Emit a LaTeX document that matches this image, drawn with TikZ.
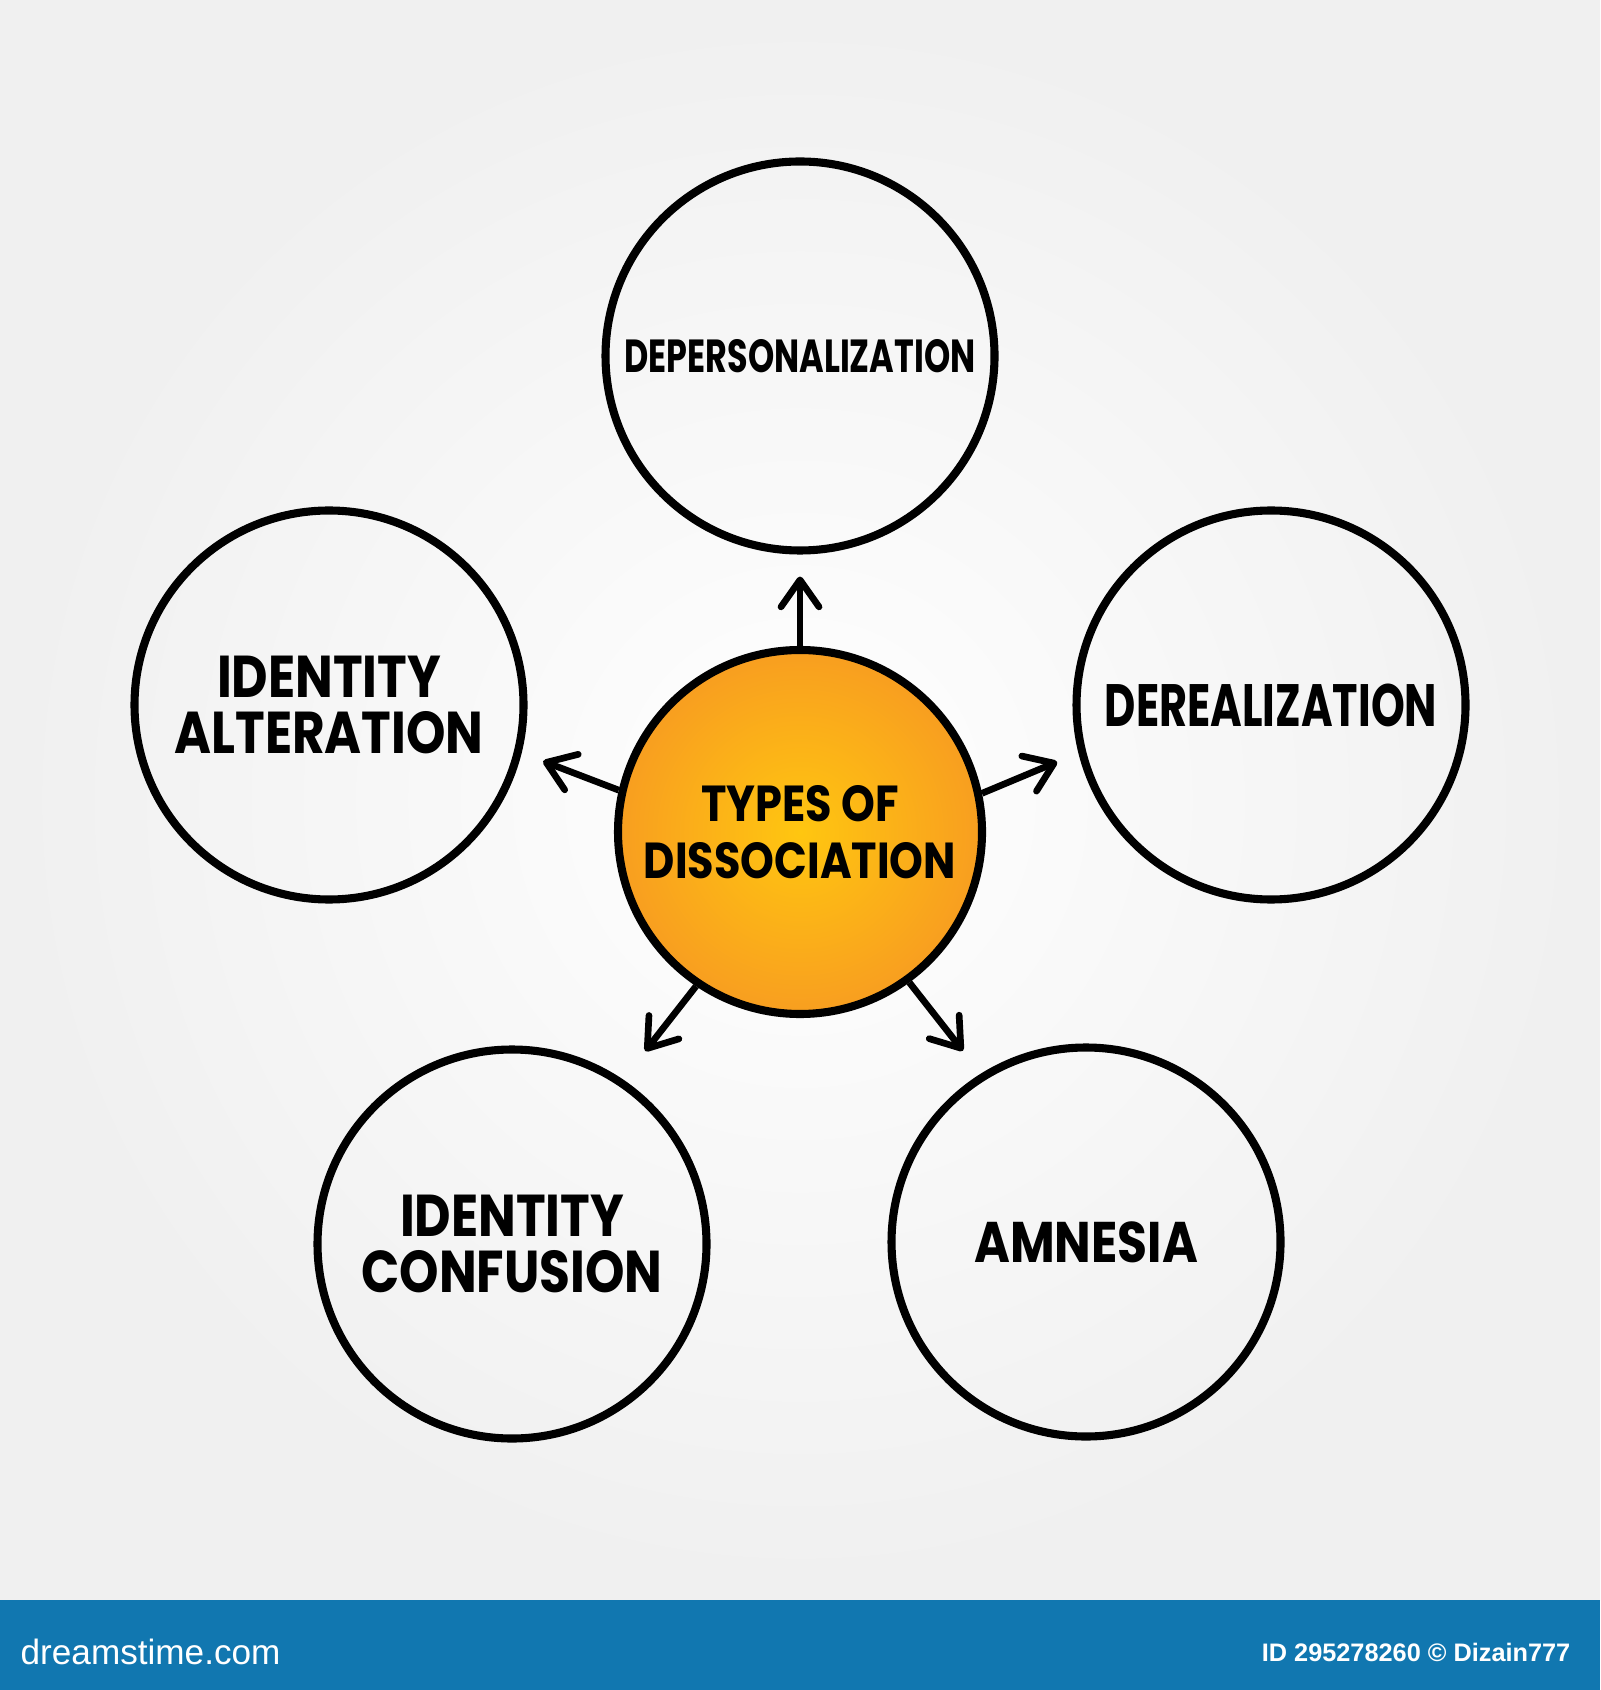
\documentclass[tikz,border=0pt]{standalone}
\usepackage{fontspec}
\setsansfont{Liberation Sans}
\newfontfamily\handfont[FakeStretch=0.72]{Poppins}
\newfontfamily\widehand[FakeStretch=0.85]{Poppins}
\usetikzlibrary{arrows,arrows.meta}

\definecolor{coreyellow}{RGB}{255,198,16}
\definecolor{coreorange}{RGB}{248,158,32}
\definecolor{barblue}{RGB}{17,119,176}
\newcommand{\markfont}[3]{#1\bfseries\fontsize{#2}{#3}\selectfont}

\begin{document}
\begin{tikzpicture}
		
		\tikzset{vertex/.style = {shape=circle,draw,line width=2.3pt,minimum size=3.89cm,inner sep=0pt,align=center}}
		\tikzset{edge/.style = {->,line width=1.9pt,> = {Straight Barb[length=2.7mm,width=3.8mm,line cap=round,line join=round]}}}
		% background
		\useasboundingbox (0,0) rectangle (16,-16.9);
		\shade[inner color=white, outer color=black!6] (0,0) rectangle (16,-16);
		\fill[barblue] (0,-16) rectangle (16,-16.9);
		% vertices
		\node[vertex,minimum size=3.64cm,inner color=coreyellow,outer color=coreorange,font=\markfont{\widehand}{14.4}{16.2}] (t) at (8.00,-8.32) {TYPES OF\\DISSOCIATION};
		\node[vertex,font=\markfont{\handfont}{13.2}{15}] (dp) at (8.00,-3.56) {DEPERSONALIZATION};
		\node[vertex,font=\markfont{\widehand}{16.8}{16}] (ia) at (3.29,-7.05) {IDENTITY\\ALTERATION};
		\node[vertex,font=\markfont{\handfont}{17}{15}] (dr) at (12.71,-7.05) {DEREALIZATION};
		\node[vertex,font=\markfont{\widehand}{16.8}{16}] (ic) at (5.12,-12.44) {IDENTITY\\CONFUSION};
		\node[vertex,font=\markfont{\widehand}{16.3}{15}] (am) at (10.86,-12.42) {AMNESIA};
		%edges
		\draw[edge,shorten >=0.22cm] (t.90) to (dp.-90);
		\draw[edge,shorten >=0.23cm] (t.167) to (ia.-14);
		\draw[edge,shorten >=0.23cm] (t.12) to (dr.194);
		\draw[edge,shorten >=0.36cm] (t.236) to (ic.56);
		\draw[edge,shorten >=0.29cm] (t.-54) to (am.122);
		
		% footer
		\node[font=\sffamily\fontsize{10}{12}\selectfont,text=white,anchor=west,inner sep=0pt] (site) at (0.2,-16.52) {dreamstime.com};
		\node[font=\sffamily\bfseries\fontsize{7.2}{9}\selectfont,text=white,anchor=east,inner sep=0pt] (credit) at (15.71,-16.52) {ID 295278260 © Dizain777};
		\end{tikzpicture}
\end{document}
